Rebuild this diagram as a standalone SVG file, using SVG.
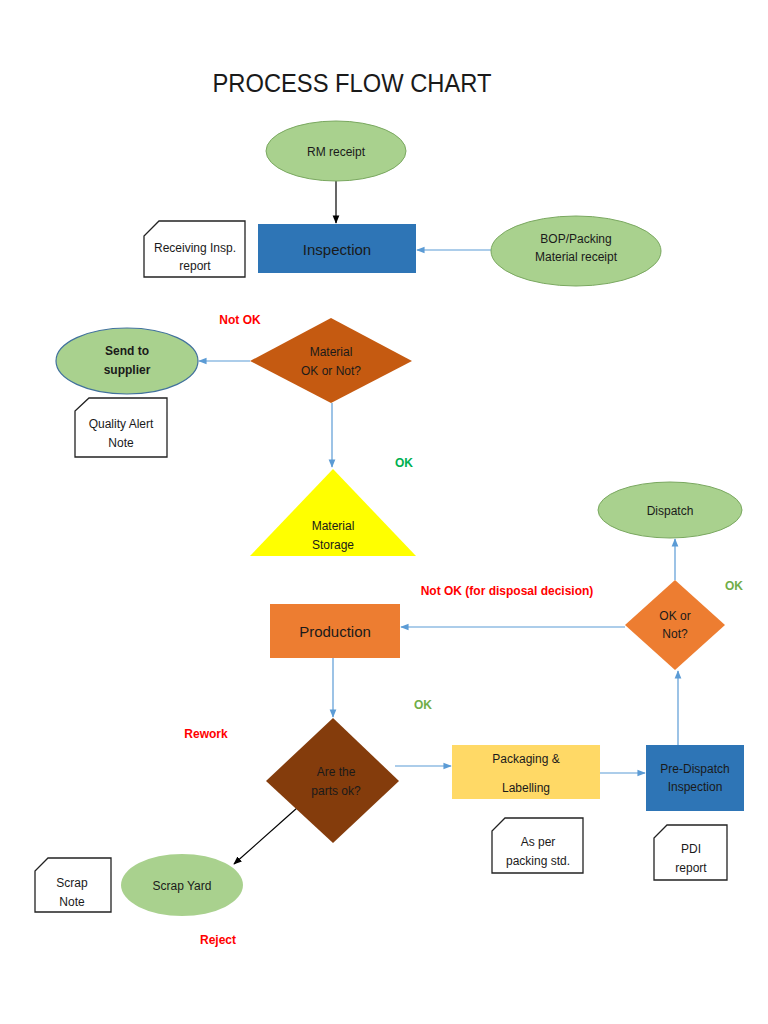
<svg xmlns="http://www.w3.org/2000/svg" width="768" height="1024" viewBox="0 0 768 1024">
<style>
text{font-family:"Liberation Sans",Arial,sans-serif;text-anchor:middle;fill:#1a1a1a}
.t{font-size:12px}
.big{font-size:15px}
.lbl{font-size:12px;font-weight:bold}
.red{fill:#ff0000}
.grn{fill:#00b050}
.lgrn{fill:#70ad47}
.ell{fill:#a9d18e;stroke:#7aa860;stroke-width:1}
.doc{fill:#ffffff;stroke:#222;stroke-width:1.3}
.blue{stroke:#5b9bd5;stroke-width:1.2;fill:none}
.blk{stroke:#000;stroke-width:1.2;fill:none}
</style>
<defs>
<marker id="ab" viewBox="0 0 10 10" refX="9" refY="5" markerWidth="7" markerHeight="7" orient="auto"><path d="M0,1 L10,5 L0,9 z" fill="#5b9bd5"/></marker>
<marker id="ak" viewBox="0 0 10 10" refX="9" refY="5" markerWidth="7" markerHeight="7" orient="auto"><path d="M0,1 L10,5 L0,9 z" fill="#000"/></marker>
</defs>
<rect width="768" height="1024" fill="#fff"/>
<text x="352" y="92" style="font-size:25px" fill="#000" textLength="279" lengthAdjust="spacingAndGlyphs">PROCESS FLOW CHART</text>

<g id="connectors">
<line class="blk" x1="336" y1="181" x2="336" y2="223" marker-end="url(#ak)"/>
<line class="blue" x1="491" y1="250" x2="417" y2="250" marker-end="url(#ab)"/>
<line class="blue" x1="250" y1="361" x2="199" y2="361" marker-end="url(#ab)"/>
<line class="blue" x1="332" y1="403" x2="332" y2="467" marker-end="url(#ab)"/>
<line class="blue" x1="675" y1="580" x2="675" y2="539" marker-end="url(#ab)"/>
<line class="blue" x1="625" y1="627" x2="401" y2="627" marker-end="url(#ab)"/>
<line class="blue" x1="333" y1="658" x2="333" y2="717" marker-end="url(#ab)"/>
<line class="blue" x1="395" y1="766" x2="451" y2="766" marker-end="url(#ab)"/>
<line class="blue" x1="600" y1="773" x2="645" y2="773" marker-end="url(#ab)"/>
<line class="blue" x1="678" y1="745" x2="678" y2="671" marker-end="url(#ab)"/>
<line class="blk" x1="297" y1="808" x2="234" y2="864" marker-end="url(#ak)"/>
</g>

<g id="rm-receipt"><ellipse class="ell" cx="336" cy="151" rx="70" ry="30"/><text class="t" x="336" y="156">RM receipt</text></g>
<g id="inspection"><rect x="258" y="224" width="158" height="49" fill="#2e75b6"/><text class="big" x="337" y="255" fill="#1f2d4d">Inspection</text></g>
<g id="receiving-report"><path class="doc" d="M159,221 H245 V277 H144 V236 Z"/><text class="t" x="195" y="252">Receiving Insp.</text><text class="t" x="195" y="270">report</text></g>
<g id="bop"><ellipse class="ell" cx="576" cy="251" rx="85" ry="35"/><text class="t" x="576" y="243">BOP/Packing</text><text class="t" x="576" y="261">Material receipt</text></g>

<text class="lbl red" x="240" y="324">Not OK</text>
<g id="material-ok"><polygon points="331,318 412,361 331,403 250,361" fill="#c55a11"/><text class="t" x="331" y="356">Material</text><text class="t" x="331" y="375">OK or Not?</text></g>
<g id="send-supplier"><ellipse cx="127" cy="361" rx="71" ry="33" fill="#a9d18e" stroke="#41719c" stroke-width="1.2"/><text class="t" x="127" y="355" font-weight="bold">Send to</text><text class="t" x="127" y="374" font-weight="bold">supplier</text></g>
<g id="quality-alert"><path class="doc" d="M89,398 H167 V457 H75 V411 Z"/><text class="t" x="121" y="428">Quality Alert</text><text class="t" x="121" y="447">Note</text></g>

<text class="lbl grn" x="404" y="467">OK</text>
<g id="material-storage"><polygon points="333,469 416,556 250,556" fill="#ffff00"/><text class="t" x="333" y="530">Material</text><text class="t" x="333" y="549">Storage</text></g>

<g id="dispatch"><ellipse class="ell" cx="670" cy="510" rx="72" ry="28"/><text class="t" x="670" y="515">Dispatch</text></g>
<text class="lbl lgrn" x="734" y="590">OK</text>
<g id="ok-or-not"><polygon points="675,580 725,625 675,670 625,625" fill="#ed7d31"/><text class="t" x="675" y="620">OK or</text><text class="t" x="675" y="638">Not?</text></g>
<text class="lbl red" x="507" y="595">Not OK (for disposal decision)</text>

<g id="production"><rect x="270" y="604" width="130" height="54" fill="#ed7d31"/><text class="big" x="335" y="637">Production</text></g>

<text class="lbl lgrn" x="423" y="709">OK</text>
<text class="lbl red" x="206" y="738">Rework</text>
<g id="parts-ok"><polygon points="333,718 399,781 333,843 266,781" fill="#843c0c"/><text class="t" x="336" y="776">Are the</text><text class="t" x="336" y="795">parts ok?</text></g>

<g id="packaging"><rect x="452" y="745" width="148" height="54" fill="#ffd966"/><text class="t" x="526" y="763">Packaging &amp;</text><text class="t" x="526" y="792">Labelling</text></g>
<g id="pre-dispatch"><rect x="646" y="745" width="98" height="66" fill="#2e75b6"/><text class="t" x="695" y="773">Pre-Dispatch</text><text class="t" x="695" y="791">Inspection</text></g>
<g id="packing-std"><path class="doc" d="M505,818 H583 V873 H492 V831 Z"/><text class="t" x="538" y="846">As per</text><text class="t" x="538" y="865">packing std.</text></g>
<g id="pdi-report"><path class="doc" d="M667,825 H727 V880 H654 V838 Z"/><text class="t" x="691" y="853">PDI</text><text class="t" x="691" y="872">report</text></g>

<g id="scrap-yard"><ellipse cx="182" cy="885" rx="61" ry="31" fill="#a9d18e"/><text class="t" x="182" y="890">Scrap Yard</text></g>
<g id="scrap-note"><path class="doc" d="M48,858 H111 V912 H35 V871 Z"/><text class="t" x="72" y="887">Scrap</text><text class="t" x="72" y="906">Note</text></g>
<text class="lbl red" x="218" y="944">Reject</text>
</svg>
